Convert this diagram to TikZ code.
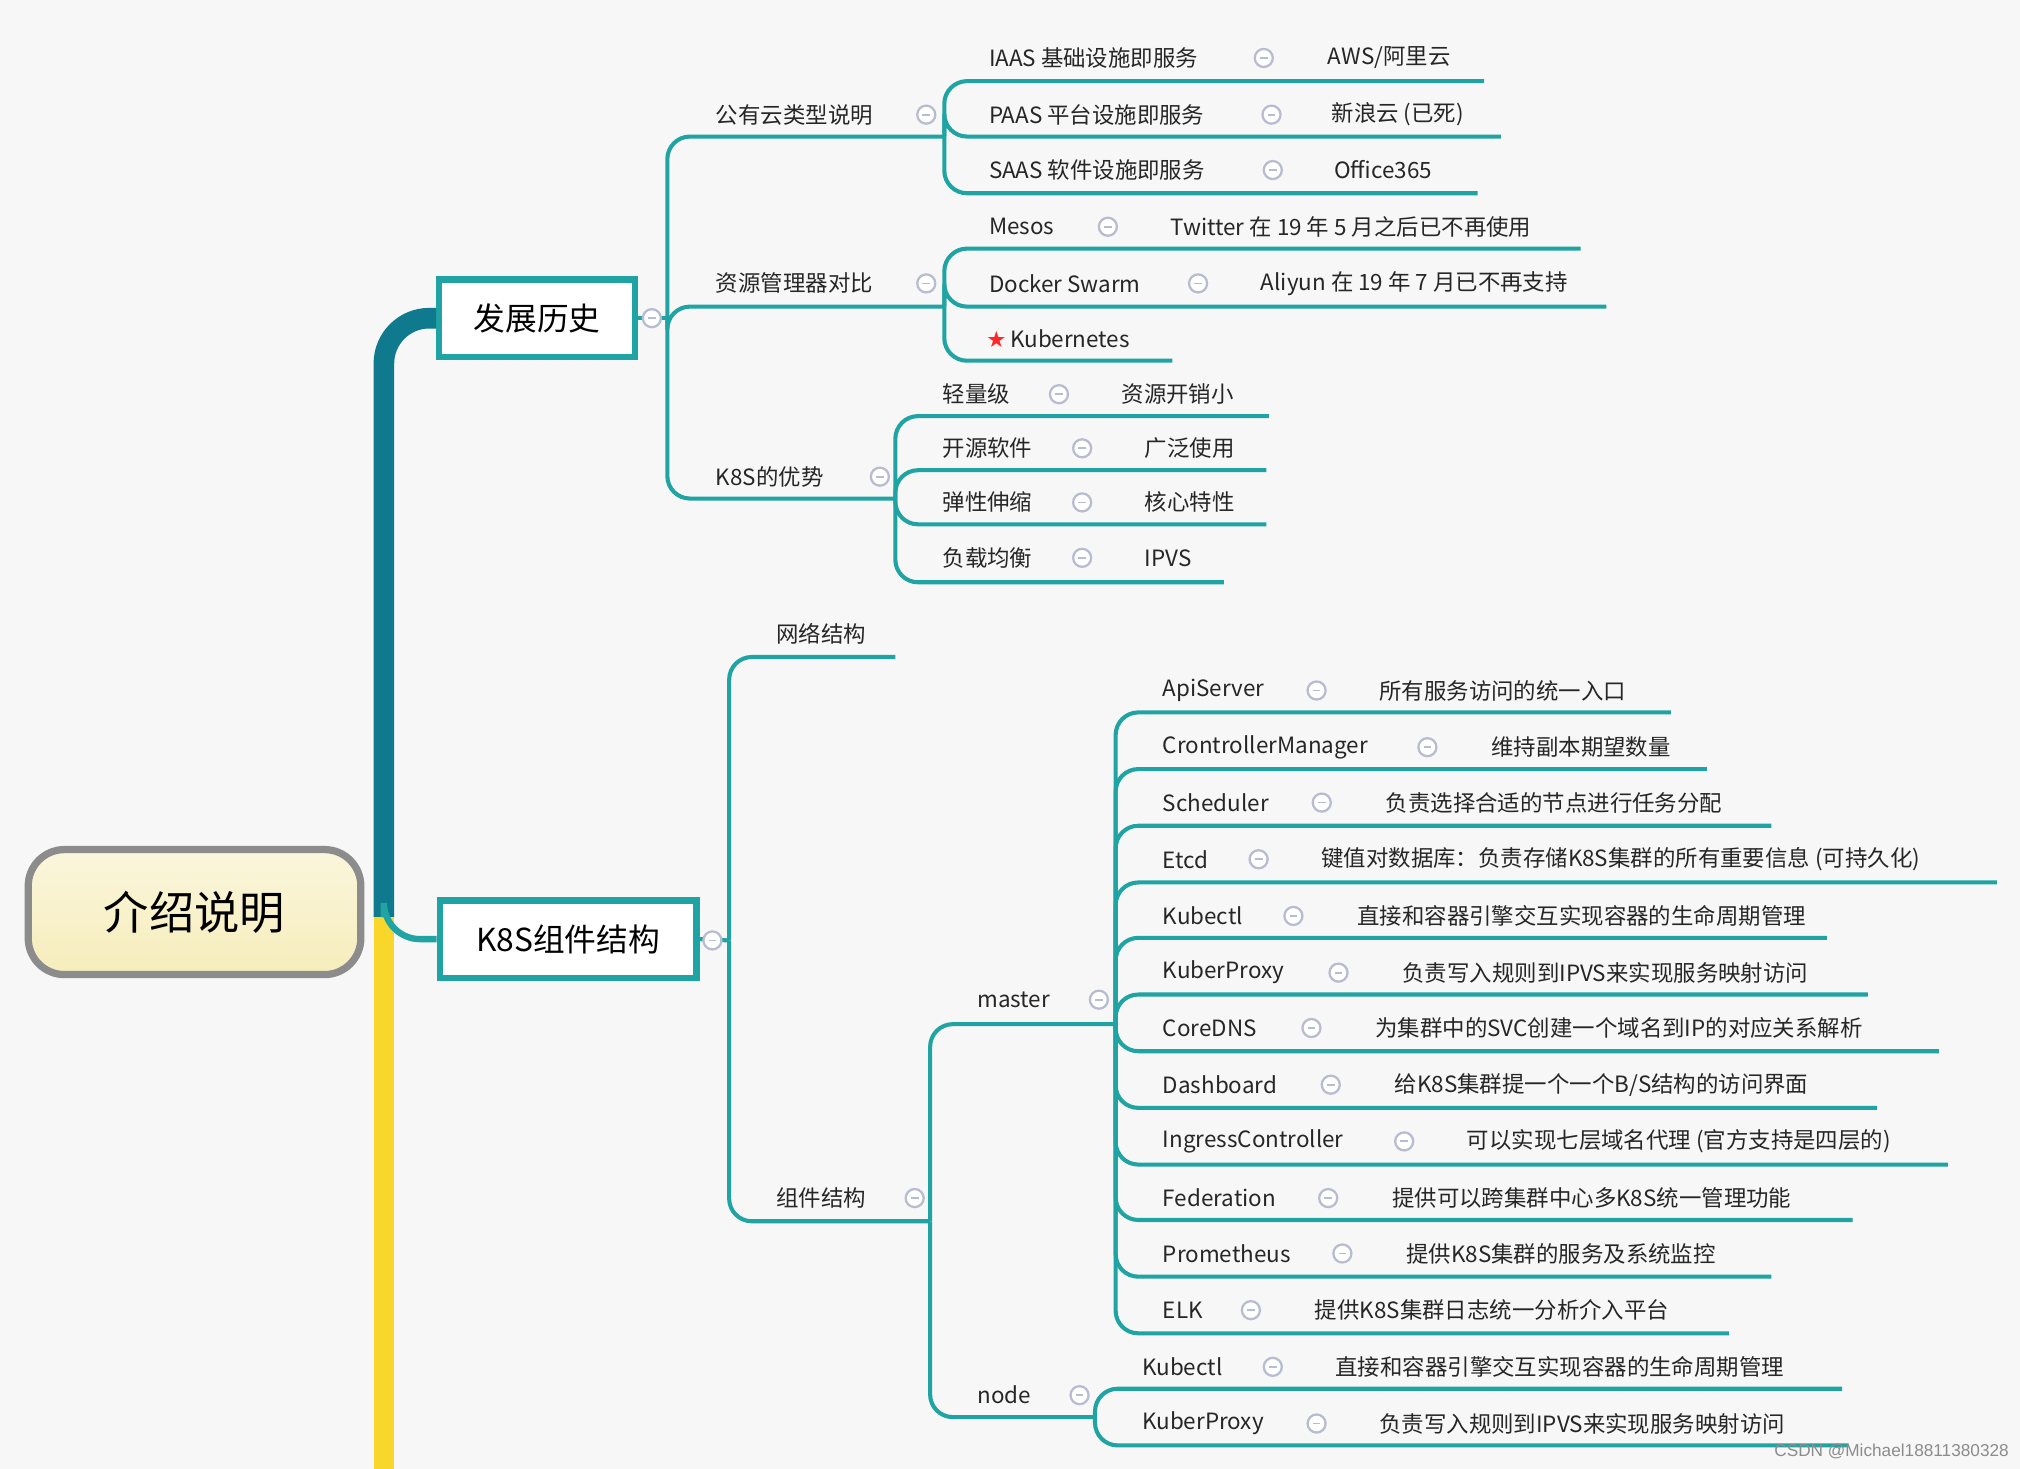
\documentclass[tikz,border=0pt]{standalone}
\usepackage{fontspec}
\setmainfont{Liberation Sans}
\newfontfamily\cjk{Noto Sans CJK SC}
\definecolor{lineteal}{HTML}{1FA3A3}
\definecolor{trunkteal}{HTML}{0F7A8E}
\definecolor{trunkyellow}{HTML}{F8D62A}
\definecolor{foldgray}{HTML}{B8BCD0}
\definecolor{rootfill}{HTML}{F6EDBB}
\tikzset{
  lbl/.style={anchor=west,inner sep=0pt,font=\cjk\fontsize{4.95}{6}\selectfont,text=black!85},
  branch/.style={draw=lineteal,line width=0.9pt,rounded corners=5},
  fold/.style={circle,draw=foldgray,line width=0.5pt,minimum size=0.14cm,inner sep=0pt,fill=white,
    path picture={\draw[foldgray,line width=0.4pt] ([xshift=-0.03cm]path picture bounding box.center) -- ([xshift=0.03cm]path picture bounding box.center);}},
  topbox/.style={draw=lineteal,line width=1.4pt,fill=white,minimum height=0.6cm,inner xsep=0.25cm,font=\cjk\fontsize{7}{9}\selectfont}
}
\begin{document}
\begin{tikzpicture}[x=0.01cm,y=-0.01cm]
\useasboundingbox[fill=black!3] (0,0) rectangle (1568,1140);
% root and trunk
\node[draw=black!45,line width=1.6pt,rounded corners=8,top color=rootfill!50,bottom color=rootfill,
  minimum width=2.58cm,minimum height=0.97cm,font=\cjk\fontsize{10}{12}\selectfont] (root) at (151,708) {介绍说明};
\node[topbox,minimum width=1.52cm] (hist) at (417,247) {发展历史};
\node[topbox,minimum width=1.99cm] (comp) at (441,729) {K8S组件结构};
\coordinate (t0) at (298,712);
\coordinate (t1) at (298,1140);
\draw[trunkteal,line width=0.16cm,rounded corners=10] (t0) |- (hist.west);
\draw[trunkyellow,line width=0.16cm] (t0) -- (t1);
\draw[lineteal,line width=1.4pt,rounded corners=8] (t0) |- (comp.west);

% history branch
\coordinate (j0) at (518,247);
\draw[branch] (hist.east) -- (j0);
\node[fold] (fhist) at (506,247) {};
\foreach \n/\t/\ty/\ly/\e/\cx in {1/公有云类型说明/89/106/733/719, 2/资源管理器对比/220/238/733/719, 3/K8S的优势/370/387/695/683}{
  \node[lbl] (m\n) at (555,\ty) {\t};
  \node[fold] (fm\n) at (\cx,\ty) {};
  \coordinate (me\n) at (\e,\ly);
  \draw[branch] (j0) |- (me\n);
}
\coordinate (j1) at (733,106);
\foreach \n/\t/\ty/\ly/\e/\cx/\v/\vx in {1/IAAS 基础设施即服务/45/63/1152/981/{AWS/阿里云}/1030,
  2/PAAS 平台设施即服务/89/106/1165/987/新浪云 (已死)/1033, 3/SAAS 软件设施即服务/132/150/1147/988/Office365/1035}{
  \node[lbl] (a\n) at (767,\ty) {\t};
  \node[fold] (fa\n) at (\cx,\ty) {};
  \node[lbl] (av\n) at (\vx,\ty) {\v};
  \coordinate (ae\n) at (\e,\ly);
  \draw[branch] (j1) |- (ae\n);
}
\coordinate (j2) at (733,238);
\foreach \n/\t/\ty/\ly/\e/\cx/\v/\vx in {1/Mesos/176/193/1227/860/Twitter 在 19 年 5 月之后已不再使用/908,
  2/Docker Swarm/220/238/1247/930/Aliyun 在 19 年 7 月已不再支持/978}{
  \node[lbl] (b\n) at (767,\ty) {\t};
  \node[fold] (fb\n) at (\cx,\ty) {};
  \node[lbl] (bv\n) at (\vx,\ty) {\v};
  \coordinate (be\n) at (\e,\ly);
  \draw[branch] (j2) |- (be\n);
}
\node[lbl] (b3) at (765,263) {{\color{red!85}\fontspec{DejaVu Sans}★}\,Kubernetes};
\coordinate (be3) at (910,280);
\draw[branch] (j2) |- (be3);
\coordinate (j3) at (695,387);
\foreach \n/\t/\ty/\ly/\e/\cx/\v/\vx in {1/轻量级/306/323/985/822/资源开销小/870, 2/开源软件/348/365/983/840/广泛使用/888,
  3/弹性伸缩/390/407/983/840/核心特性/888, 4/负载均衡/433/452/950/840/IPVS/888}{
  \node[lbl] (c\n) at (731,\ty) {\t};
  \node[fold] (fc\n) at (\cx,\ty) {};
  \node[lbl] (cv\n) at (\vx,\ty) {\v};
  \coordinate (ce\n) at (\e,\ly);
  \draw[branch] (j3) |- (ce\n);
}

% component branch
\coordinate (j4) at (566,730);
\draw[branch] (comp.east) -- (j4);
\node[fold] (fcomp) at (553,730) {};
\node[lbl] (net) at (602,492) {网络结构};
\coordinate (nete) at (695,510);
\draw[branch] (j4) |- (nete);
\node[lbl] (grp) at (602,930) {组件结构};
\node[fold] (fgrp) at (710,930) {};
\coordinate (grpe) at (722,948);
\draw[branch] (j4) |- (grpe);
\node[lbl] (mst) at (758,776) {master};
\node[fold] (fmst) at (853,776) {};
\coordinate (mste) at (866,795);
\draw[branch] (grpe) |- (mste);
\node[lbl] (nd) at (758,1083) {node};
\node[fold] (fnd) at (838,1083) {};
\coordinate (nde) at (850,1100);
\draw[branch] (grpe) |- (nde);
\foreach \n/\t/\ty/\ly/\e/\cx/\v/\vx in {
  1/ApiServer/536/553/1297/1022/所有服务访问的统一入口/1070,
  2/CrontrollerManager/580/597/1325/1108/维持副本期望数量/1157,
  3/Scheduler/623/641/1375/1026/负责选择合适的节点进行任务分配/1075,
  4/Etcd/667/685/1550/977/键值对数据库：负责存储K8S集群的所有重要信息 (可持久化)/1025,
  5/Kubectl/711/728/1418/1004/直接和容器引擎交互实现容器的生命周期管理/1053,
  6/KuberProxy/755/772/1450/1039/负责写入规则到IPVS来实现服务映射访问/1088,
  7/CoreDNS/798/816/1505/1018/为集群中的SVC创建一个域名到IP的对应关系解析/1067,
  8/Dashboard/842/860/1457/1033/{给K8S集群提一个一个B/S结构的访问界面}/1082,
  9/IngressController/886/904/1512/1090/可以实现七层域名代理 (官方支持是四层的)/1138,
  10/Federation/930/947/1438/1031/提供可以跨集群中心多K8S统一管理功能/1080,
  11/Prometheus/973/991/1375/1042/提供K8S集群的服务及系统监控/1091,
  12/ELK/1017/1035/1342/971/提供K8S集群日志统一分析介入平台/1020}{
  \node[lbl] (d\n) at (902,\ty) {\t};
  \node[fold] (fd\n) at (\cx,\ty) {};
  \node[lbl] (dv\n) at (\vx,\ty) {\v};
  \coordinate (de\n) at (\e,\ly);
  \draw[branch] (mste) |- (de\n);
}
\foreach \n/\t/\ty/\ly/\e/\cx/\v/\vx in {
  1/Kubectl/1061/1078/1430/988/直接和容器引擎交互实现容器的生命周期管理/1036,
  2/KuberProxy/1105/1122/1435/1022/负责写入规则到IPVS来实现服务映射访问/1070}{
  \node[lbl] (n\n) at (886,\ty) {\t};
  \node[fold] (fn\n) at (\cx,\ty) {};
  \node[lbl] (nv\n) at (\vx,\ty) {\v};
  \coordinate (ne\n) at (\e,\ly);
  \draw[branch] (nde) |- (ne\n);
}
\node[anchor=east,inner sep=0pt,font=\fontsize{3.8}{4}\selectfont,text=black!45] (mark) at (1560,1127) {CSDN @Michael18811380328};
\end{tikzpicture}
\end{document}
